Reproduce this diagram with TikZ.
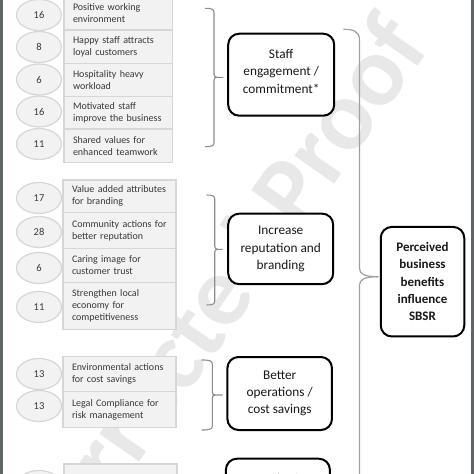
\documentclass[tikz,border=0pt]{standalone}
\usepackage{fontspec}
\setmainfont{Carlito}
\usetikzlibrary{shapes.geometric}
\definecolor{itemfill}{HTML}{F2F2F2}
\definecolor{itemdraw}{HTML}{D6D6D6}
\definecolor{bracecol}{HTML}{8C8C8C}
\definecolor{bigbrace}{HTML}{A0A0A0}
\definecolor{barcol}{HTML}{5F6668}
\definecolor{wmark}{HTML}{E8E8E8}
\definecolor{itemtext}{HTML}{383838}
\newcommand{\cbrace}[6]{%
\draw[bracestyle] (#1,#4) .. controls (#2-2,#4) and (#2,#4+1) .. (#2,#4+4) -- (#2,#5-3) .. controls (#2,#5-1) and (#2+1,#5) .. (#2+3,#5) -- (#3,#5);
\draw[bracestyle] (#2+3,#5) .. controls (#2+1,#5) and (#2,#5+1) .. (#2,#5+3) -- (#2,#6-4) .. controls (#2,#6-1) and (#2-2,#6) .. (#1,#6);}
\begin{document}
\begin{tikzpicture}[x=1pt,y=-1pt,
  numell/.style={ellipse, draw=itemdraw, fill=itemfill, line width=1.2pt, minimum width=45pt, minimum height=31pt, inner sep=0pt, font=\fontsize{10.5}{12}\selectfont, text=itemtext},
  itembox/.style={rectangle, draw=itemdraw, fill=itemfill, line width=1.2pt, inner xsep=9pt, inner ysep=0pt, text width=#1, align=left, font=\fontsize{10}{12}\selectfont, text=itemtext},
  midbox/.style={rectangle, rounded corners=11pt, draw=black, line width=2pt, fill=white, align=center, font=\fontsize{13.3}{17.3}\selectfont, text=black!90, inner sep=0pt},
  benbox/.style={midbox, font=\fontsize{13}{17.3}\selectfont\bfseries},
  bracestyle/.style={draw=bracecol, line width=1.1pt},
  bigbracestyle/.style={draw=bigbrace, line width=1.2pt}]
\useasboundingbox (0,0) rectangle (474,474);
\fill[white] (0,0) rectangle (474,474);
% watermark
\node[rotate=55, text=wmark, font=\fontsize{100}{100}\selectfont\bfseries, inner sep=0pt] (wm) at (184,339) {Uncorrected Proof};
% side bars
\fill[barcol] (0,0) rectangle (2.8,474);
\fill[barcol] (470.7,0) rectangle (474,474);
% group 1
\node[itembox=90.5pt, minimum height=34pt] (a1) at (118.25,13) {Positive working\\environment};
\node[itembox=90.5pt, minimum height=33.3pt] (a2) at (118.25,46.65) {Happy staff attracts\\loyal customers};
\node[itembox=90.5pt, minimum height=33.4pt] (a3) at (118.25,80) {Hospitality heavy\\workload};
\node[itembox=90.5pt, minimum height=32.3pt] (a4) at (118.25,112.85) {Motivated staff\\improve the business};
\node[itembox=90.5pt, minimum height=33.7pt] (a5) at (118.25,145.85) {Shared values for\\enhanced teamwork};
\node[numell] (n1) at (39,15) {16};
\node[numell] (n2) at (39,47) {8};
\node[numell] (n3) at (39,79.5) {6};
\node[numell] (n4) at (39,111.5) {16};
\node[numell] (n5) at (39,144) {11};
% group 2
\node[itembox=95pt, minimum height=32.7pt] (b1) at (119.5,196.35) {Value added attributes\\for branding};
\node[itembox=95pt, minimum height=35.6pt] (b2) at (119.5,230.5) {Community actions for\\better reputation};
\node[itembox=95pt, minimum height=34.4pt] (b3) at (119.5,265.5) {Caring image for\\customer trust};
\node[itembox=95pt, minimum height=46.6pt] (b4) at (119.5,306) {Strengthen local\\economy for\\competitiveness};
\node[numell] (m1) at (39,198) {17};
\node[numell] (m2) at (39,232) {28};
\node[numell] (m3) at (39,268) {6};
\node[numell] (m4) at (39,307) {11};
% group 3
\node[itembox=95pt, minimum height=35pt] (c1) at (119.5,374.2) {Environmental actions\\for cost savings};
\node[itembox=95pt, minimum height=35.6pt] (c2) at (119.5,409.5) {Legal Compliance for\\risk management};
\node[numell] (k1) at (39,374) {13};
\node[numell] (k2) at (39,406) {13};
% group 4 (cut off)
\node[itembox=95pt, minimum height=36pt] (d1) at (120.5,482) {};
\node[numell] (j1) at (39,486) {};
% braces
\cbrace{205}{214}{223.3}{8.3}{77.3}{146.7}
\cbrace{206.7}{214.7}{222.7}{195}{249.3}{305}
\cbrace{201.7}{212.3}{222.7}{360}{395}{430}
% middle boxes
\node[midbox, minimum width=106pt, minimum height=82pt, text depth=7pt] (staff) at (281.2,74.7) {Staff\\engagement /\\commitment*};
\node[midbox, minimum width=105pt, minimum height=70.5pt] (rep) at (280.7,248.9) {Increase\\reputation and\\branding};
\node[midbox, minimum width=104.5pt, minimum height=73pt] (ops) at (279.7,393.5) {Better\\operations /\\cost savings};
\node[midbox, minimum width=104pt, minimum height=74pt, anchor=north] (contrib) at (277.9,457.7) {Contributing\\~\\~};
% big brace
\coordinate (bigtip) at (378.3,276.7);
\draw[bigbracestyle] (343.3,29.3) .. controls (353,29.3) and (359.5,31) .. (359.5,40) -- (359.5,268) .. controls (359.5,274) and (364,276.7) .. (bigtip);
\draw[bigbracestyle] (bigtip) .. controls (364,276.7) and (359.5,279.5) .. (359.5,285.5) -- (359.5,480);
% benefit box
\node[benbox, minimum width=83.5pt, minimum height=109.5pt] (ben) at (422.5,281.7) {Perceived\\business\\benefits\\influence\\SBSR};
\end{tikzpicture}
\end{document}
